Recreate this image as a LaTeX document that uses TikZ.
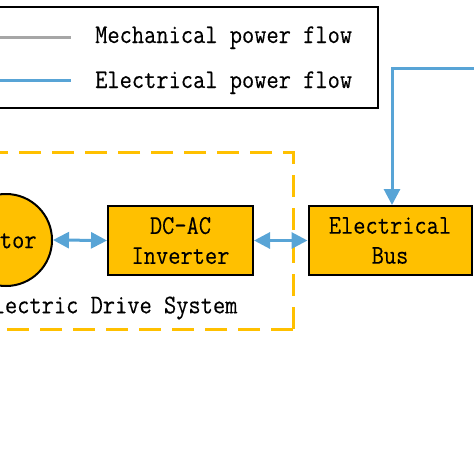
\documentclass[tikz,border=0pt]{standalone}
\usepackage{fontspec}
\setmonofont{Latin Modern Mono}[FakeStretch=0.88,FakeBold=0.25]
\usepackage{tikz}
\usetikzlibrary{arrows.meta}
\usetikzlibrary{positioning}
\definecolor{amber}{RGB}{255,192,0}
\definecolor{sky}{RGB}{88,164,214}
\definecolor{ash}{RGB}{166,166,166}

\begin{document}
\begin{tikzpicture}[x=1pt,y=-1pt,font=\ttfamily\fontsize{27}{30}\selectfont,
  block/.style={draw,line width=2pt,fill=amber,minimum height=69pt,align=center,inner sep=0pt},
  lbl/.style={inner sep=0pt},
  eflow/.style={sky,line width=3pt},
  tip/.style={-{Triangle[length=16pt,width=16pt]}},
  twotip/.style={{Triangle[length=16pt,width=16pt]}-{Triangle[length=16pt,width=16pt]}}]
\useasboundingbox (0,0) rectangle (474,474);
\clip (0,0) rectangle (474,474);
\draw[line width=2.5pt] (-10,7) rectangle (378,108);
\draw[ash,line width=3pt] (-5,37)--(71,37);
\draw[eflow] (-5,80)--(71,80);
\node[lbl,anchor=base west] (mech) at (95,43) {Mechanical power flow};
\node[lbl,anchor=base west] (elec) at (95,88) {Electrical power flow};
\draw[amber,line width=3pt,dash pattern=on 22pt off 11pt] (293,329)--(293,152)--(-20,152);
\draw[amber,line width=3pt,dash pattern=on 22pt off 11pt] (293,329)--(-20,329);
\node[lbl] (eds) at (109,308) {Electric Drive System};
\node[draw,circle,line width=2pt,fill=amber,minimum size=92pt,inner sep=0pt] (motor) at (6,240) {Motor};
\node[block,minimum width=145pt] (inv) at (180.5,240.5) {DC-AC\\Inverter};
\node[block,minimum width=163pt] (bus) at (390,240.5) {Electrical\\Bus};
\coordinate (feed) at (480,68);
\draw[eflow,twotip] (motor.east)--(inv.west);
\draw[eflow,twotip] (inv.east)--(bus.west);
\draw[eflow,tip] (feed)-|([xshift=2pt]bus.north);
\end{tikzpicture}
\end{document}
